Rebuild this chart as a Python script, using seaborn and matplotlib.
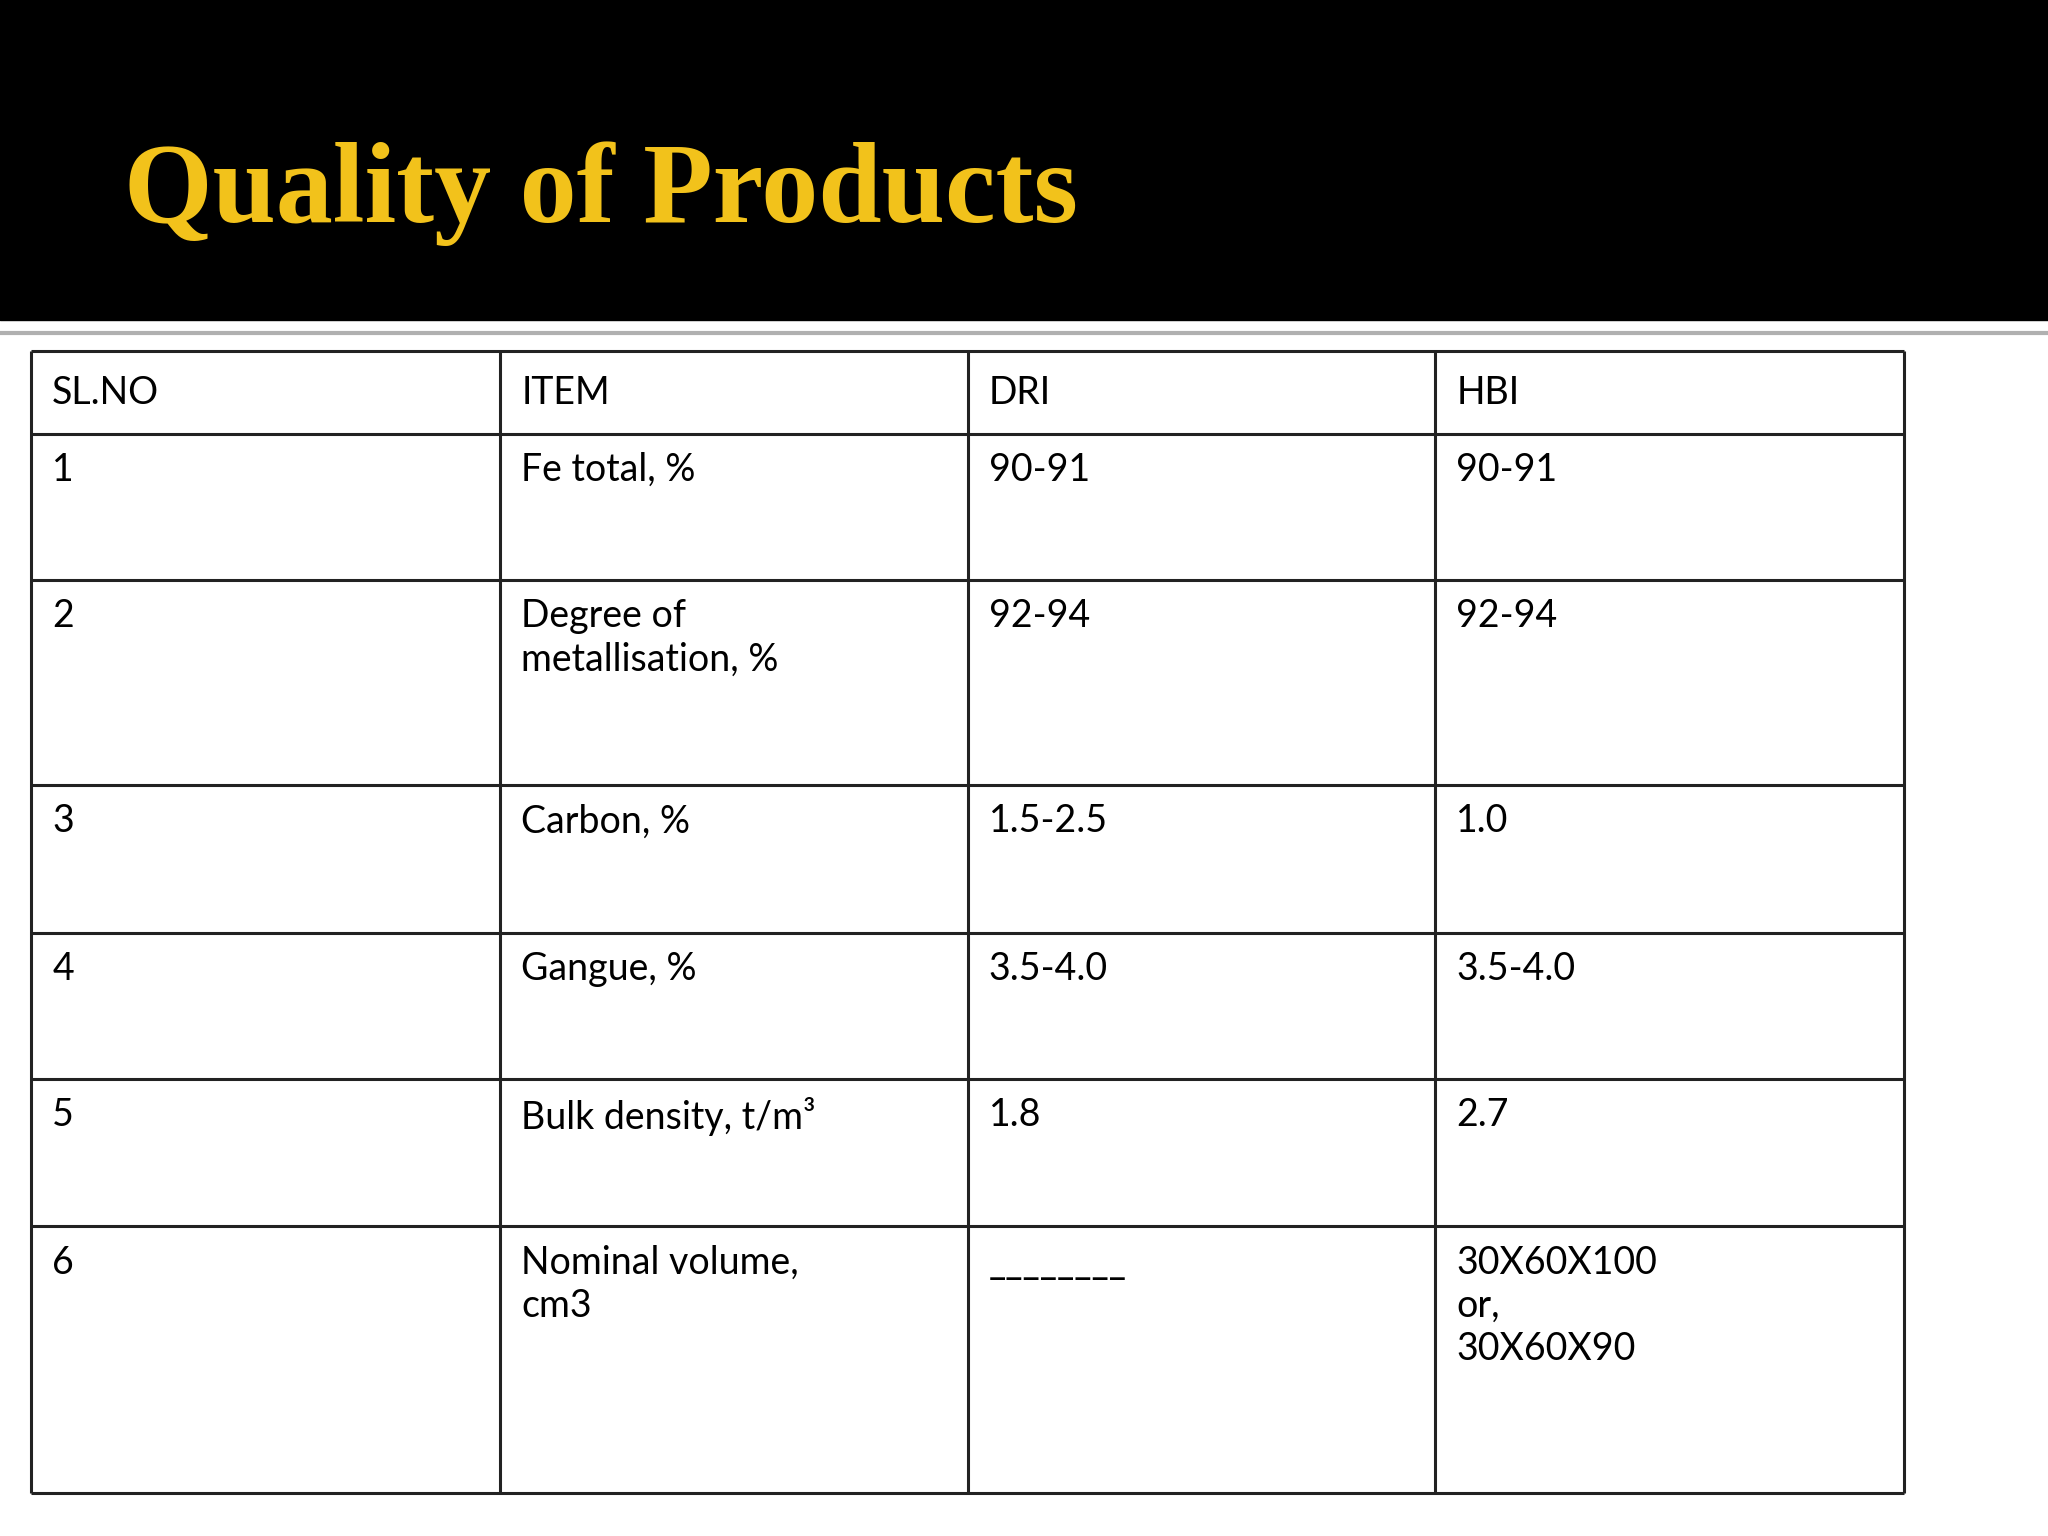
import matplotlib
matplotlib.use("Agg")
import matplotlib.pyplot as plt
import seaborn as sns

sns.set_theme(style="white")
plt.rcParams['font.family'] = ['Lato', 'DejaVu Sans']

title = "Quality of Products"
headers = ["SL.NO", "ITEM", "DRI", "HBI"]
sl_no = ["1", "2", "3", "4", "5", "6"]
items = ["Fe total, %", "Degree of\nmetallisation, %", "Carbon, %", "Gangue, %",
         "Bulk density, t/m³", "Nominal volume,\ncm3"]
dri = ["90-91", "92-94", "1.5-2.5", "3.5-4.0", "1.8", "________"]
hbi = ["90-91", "92-94", "1.0", "3.5-4.0", "2.7", "30X60X100\nor,\n30X60X90"]

W, H = 1568, 1176
col_edges = [24, 383, 741, 1099, 1458]
row_edges = [269, 332, 444, 601, 714, 826, 939, 1143]

fig = plt.figure(figsize=(20.48, 15.36), dpi=100)
ax = fig.add_axes([0, 0, 1, 1])
ax.set_xlim(0, W)
ax.set_ylim(H, 0)
ax.axis("off")

ax.fill_between([0, W], 0, 245, color="black", zorder=0)
ax.hlines(255, 0, W, color="#b0b0b0", lw=3)
ax.text(95, 170, title, family="Liberation Serif", fontweight="bold",
        color="#f2c21b", fontsize=82, va="baseline", ha="left")

ax.hlines(row_edges, col_edges[0], col_edges[-1], color="#222222", lw=2.2)
ax.vlines(col_edges, row_edges[0], row_edges[-1], color="#222222", lw=2.2)

fs = 27
for j, h in enumerate(headers):
    ax.text(col_edges[j] + 16, 301, h, fontsize=fs, va="center", ha="left", color="black")

cols = [sl_no, items, dri, hbi]
for i in range(len(sl_no)):
    top = row_edges[i + 1]
    for j, col in enumerate(cols):
        ax.text(col_edges[j] + 16, top + 14, col[i], fontsize=fs, va="top", ha="left",
                color="black", linespacing=1.25)

fig.savefig("out.png", dpi=100, facecolor="white")
